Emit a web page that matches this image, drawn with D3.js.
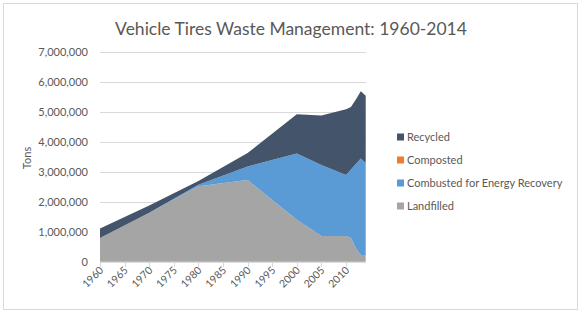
<!DOCTYPE html>
<html>
<head>
<meta charset="utf-8">
<script src="https://cdn.jsdelivr.net/npm/d3@7"></script>
<style>
  body { margin: 0; background: #fff; }
  text { font-family: Lato, "Open Sans", sans-serif; fill: #595959; }
</style>
</head>
<body>
<script>
var years = [1960, 1970, 1980, 1990, 2000, 2005, 2010, 2011, 2012, 2013, 2014];
var landfilled = [790000, 1640000, 2520000, 2730000, 1400000, 860000, 860000, 790000, 450000, 220000, 220000];
var combusted = [0, 0, 50000, 450000, 2220000, 2370000, 2040000, 2290000, 2820000, 3230000, 3080000];
var composted = [0, 0, 0, 0, 0, 0, 0, 0, 0, 0, 0];
var recycled = [320000, 240000, 130000, 450000, 1310000, 1660000, 2200000, 2090000, 2150000, 2250000, 2250000];
var seriesNames = ["Landfilled", "Combusted for Energy Recovery", "Composted", "Recycled"];
var xTicks = [1960, 1965, 1970, 1975, 1980, 1985, 1990, 1995, 2000, 2005, 2010];
var yTicks = [0, 1000000, 2000000, 3000000, 4000000, 5000000, 6000000, 7000000];

var colors = {
  "Recycled": "#44546a",
  "Composted": "#ed7d31",
  "Combusted for Energy Recovery": "#5b9bd5",
  "Landfilled": "#a5a5a5"
};

var rows = years.map(function(y, i) {
  return {
    year: y,
    "Landfilled": landfilled[i],
    "Combusted for Energy Recovery": combusted[i],
    "Composted": composted[i],
    "Recycled": recycled[i]
  };
});

var svg = d3.select("body")
    .append("svg")
    .attr("width", 581)
    .attr("height", 313)
    .style("display", "block");

svg.append("rect")
    .attr("x", 3.5)
    .attr("y", 3.5)
    .attr("width", 574)
    .attr("height", 306)
    .attr("fill", "#fff")
    .attr("stroke", "#d9d9d9");

var x = d3.scaleLinear().domain([1960, 2014]).range([100, 365.7]);
var y = d3.scaleLinear().domain([0, 7000000]).range([261.7, 52.3]);

// gridlines
svg.selectAll(".grid")
    .data(yTicks.slice(1))
    .enter().append("line")
    .attr("x1", 100)
    .attr("x2", 366)
    .attr("y1", function(d) { return Math.round(y(d)) + 0.5; })
    .attr("y2", function(d) { return Math.round(y(d)) + 0.5; })
    .attr("stroke", "#d9d9d9");

var stack = d3.stack().keys(seriesNames);
var layers = stack(rows);

var area = d3.area()
    .x(function(d) { return x(d.data.year); })
    .y0(function(d) { return y(d[0]); })
    .y1(function(d) { return y(d[1]); });

svg.selectAll(".layer")
    .data(layers)
    .enter().append("path")
    .attr("d", area)
    .attr("fill", function(d) { return colors[d.key]; });

// x axis line + ticks
svg.append("line")
    .attr("x1", 100)
    .attr("x2", 366)
    .attr("y1", 262.5)
    .attr("y2", 262.5)
    .attr("stroke", "#d9d9d9");

svg.selectAll(".xtick")
    .data(xTicks)
    .enter().append("line")
    .attr("x1", function(d) { return Math.round(x(d)) + 0.5; })
    .attr("x2", function(d) { return Math.round(x(d)) + 0.5; })
    .attr("y1", 262)
    .attr("y2", 267)
    .attr("stroke", "#d9d9d9");

svg.selectAll(".xlabel")
    .data(xTicks)
    .enter().append("text")
    .attr("text-anchor", "end")
    .attr("font-size", "10.5px")
    .attr("transform", function(d) {
      return "translate(" + (x(d) + 4) + "," + 271 + ") rotate(-45)";
    })
    .text(function(d) { return d; });

// y labels
svg.selectAll(".ylabel")
    .data(yTicks)
    .enter().append("text")
    .attr("x", 88)
    .attr("y", function(d) { return y(d) + 4; })
    .attr("text-anchor", "end")
    .attr("font-size", "11px")
    .text(function(d) { return d3.format(",")(d); });

svg.append("text")
    .attr("transform", "translate(" + 31 + "," + 158 + ") rotate(-90)")
    .attr("text-anchor", "middle")
    .attr("font-size", "11px")
    .text("Tons");

svg.append("text")
    .attr("x", 291)
    .attr("y", 35)
    .attr("text-anchor", "middle")
    .attr("font-size", "17.5px")
    .text("Vehicle Tires Waste Management: 1960-2014");

// legend, top to bottom
var legendOrder = ["Recycled", "Composted", "Combusted for Energy Recovery", "Landfilled"];
var legend = svg.selectAll(".legend")
    .data(legendOrder)
    .enter().append("g")
    .attr("transform", function(d, i) { return "translate(397," + (137 + i * 23) + ")"; });

legend.append("rect")
    .attr("x", 0)
    .attr("y", -3.5)
    .attr("width", 7)
    .attr("height", 7)
    .attr("fill", function(d) { return colors[d]; });

legend.append("text")
    .attr("x", 10)
    .attr("y", 4)
    .attr("font-size", "11px")
    .text(function(d) { return d; });
</script>
</body>
</html>
